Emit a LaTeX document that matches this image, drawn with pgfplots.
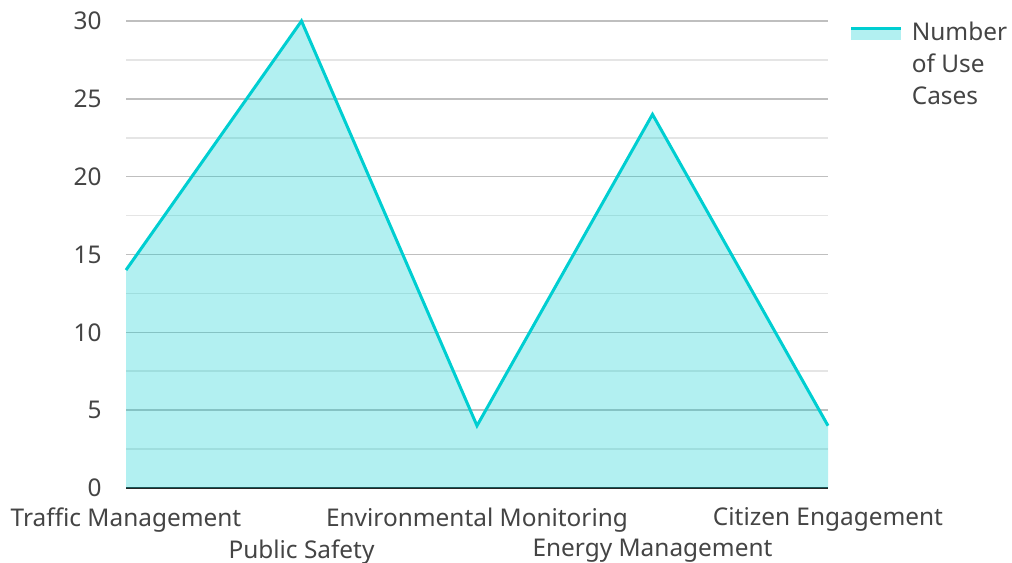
\documentclass[border=0pt]{standalone}
\usepackage{fontspec}
\setmainfont{Noto Sans}
\usepackage{pgfplots}
\pgfplotsset{compat=1.18}
\definecolor{lineC}{HTML}{00CED1}
\definecolor{tickC}{HTML}{444444}
\begin{document}
\fontsize{12.2pt}{14.5pt}\selectfont
\begin{tikzpicture}
\begin{axis}[
  scale only axis, width=351pt, height=233.5pt,
  xmin=0, xmax=4, ymin=0, ymax=30,
  ytick={0,5,...,30}, minor y tick num=1,
  ymajorgrids, yminorgrids,
  major grid style={draw=black!25, line width=0.8pt},
  minor grid style={draw=black!10, line width=0.8pt},
  separate axis lines,
  axis x line*=bottom,
  axis y line*=left,
  y axis line style={draw=none},
  x axis line style={draw=black!85, line width=1pt},
  tick style={draw=none},
  /pgf/number format/assume math mode=true,
  tick label style={text=tickC, font=\fontsize{12.2pt}{14.5pt}\selectfont},
  yticklabel style={xshift=-8pt},
  xtick={0,2,4},
  xticklabels={Traffic Management, Environmental Monitoring, Citizen Engagement},
  xticklabel style={yshift=-5.5pt},
  extra x ticks={1,3},
  extra x tick labels={Public Safety, Energy Management},
  extra x tick style={xticklabel style={yshift=-16pt}, grid=none},
  legend style={at={(1.022,1.015)}, anchor=north west, draw=none, fill=none,
    font=\fontsize{12.2pt}{16pt}\selectfont, text=tickC, row sep=0pt,
    legend cell align=left,
    nodes={inner xsep=4.5pt}},
  legend image code/.code={
    \path[fill=lineC, fill opacity=0.3, draw=none] (0pt,-3.5pt) rectangle (25pt,2.5pt);
    \path[draw=lineC, line width=1.5pt] (0pt,2.5pt) -- (25pt,2.5pt);
  },
  clip=false,
]
\addplot[draw=none, fill=lineC, fill opacity=0.3, forget plot]
  coordinates {(0,14) (1,30) (2,4) (3,24) (4,4)} \closedcycle;
\addplot[lineC, line width=1.5pt, line join=miter]
  coordinates {(0,14) (1,30) (2,4) (3,24) (4,4)};
\addlegendentry{\parbox[t]{48pt}{\raggedright Number\\of Use\\Cases}}
\coordinate (SW) at (rel axis cs:0,0);
\coordinate (NE) at (rel axis cs:1,1);
\end{axis}
\pgfresetboundingbox
\path ([shift={(-63pt,-37.5pt)}]SW) rectangle ([shift={(92pt,10.5pt)}]NE);
\end{tikzpicture}
\end{document}
